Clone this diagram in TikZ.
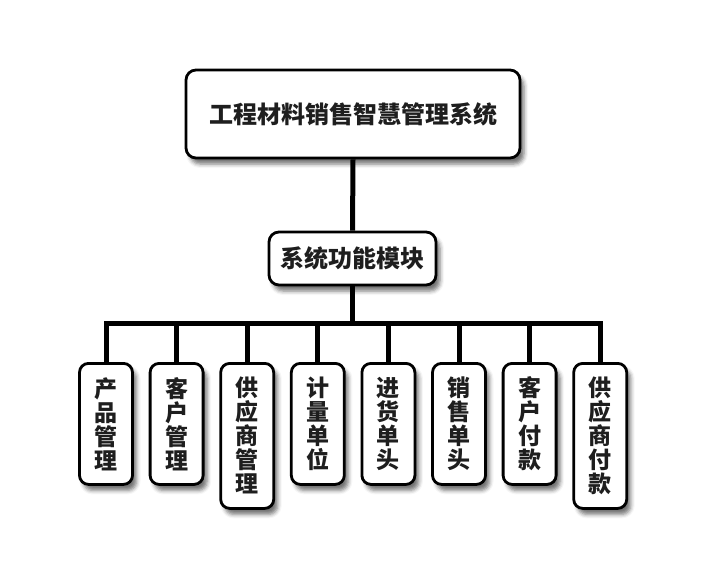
\documentclass[tikz,border=0pt]{standalone}
\usepackage{fontspec}
\newfontfamily\cjk{Noto Sans CJK SC}
\usetikzlibrary{shadows.blur,backgrounds}
\definecolor{txt}{HTML}{1E1E1E}
\tikzset{
  box/.style={draw=black, line width=2.8pt, fill=white, rounded corners=10pt,
    text=txt, inner sep=0pt,
    blur shadow={shadow xshift=4pt, shadow yshift=-6pt, shadow blur radius=4pt, shadow opacity=55}},
  titlebox/.style={box, minimum width=334pt, minimum height=88pt, font=\cjk\bfseries\fontsize{24}{26}\selectfont},
  midbox/.style={box, minimum width=167pt, minimum height=53pt, font=\cjk\bfseries\fontsize{24}{26}\selectfont},
  leaf/.style={box, rounded corners=9pt, anchor=north, minimum width=53pt, align=center,
    font=\cjk\bfseries\fontsize{23}{24}\selectfont},
  leaffour/.style={leaf, minimum height=121pt},
  leaffive/.style={leaf, minimum height=145pt},
  conn/.style={draw=black, line width=5pt, line join=miter}
}
\begin{document}
\begin{tikzpicture}[x=1pt,y=-1pt]
\useasboundingbox (0,0) rectangle (706,583);
\node[titlebox] (top) at (353,114) {工程材料销售智慧管理系统};
\node[midbox] (mid) at (352.5,258.5) {系统功能模块};
\node[leaffour] (b1) at (106,362) {产\\品\\管\\理};
\node[leaffour] (b2) at (176.6,362) {客\\户\\管\\理};
\node[leaffive] (b3) at (247.2,362) {供\\应\\商\\管\\理};
\node[leaffour] (b4) at (317.8,362) {计\\量\\单\\位};
\node[leaffour] (b5) at (388.4,362) {进\\货\\单\\头};
\node[leaffour] (b6) at (459,362) {销\\售\\单\\头};
\node[leaffour] (b7) at (529.6,362) {客\\户\\付\\款};
\node[leaffive] (b8) at (600.2,362) {供\\应\\商\\付\\款};
\coordinate (bus) at (352.5,323);
\begin{scope}[on background layer]
\draw[conn] (top.south) -- (mid.north);
\draw[conn] (mid.south) -- (bus);
\foreach \i in {1,...,8} {
  \draw[conn] (bus) -| (b\i.north);
}
\end{scope}
\end{tikzpicture}
\end{document}
